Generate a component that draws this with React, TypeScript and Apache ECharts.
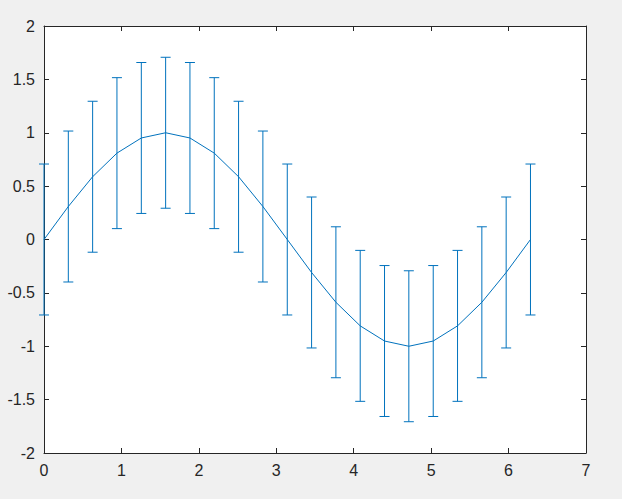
import React, { useEffect, useRef } from "react";
import * as echarts from "echarts";

const xValues = [0, 0.314, 0.628, 0.942, 1.257, 1.571, 1.885, 2.199, 2.513, 2.827, 3.142, 3.456, 3.77, 4.084, 4.398, 4.712, 5.027, 5.341, 5.655, 5.969, 6.283];
const yValues = [0, 0.309, 0.588, 0.809, 0.951, 1, 0.951, 0.809, 0.588, 0.309, 0, -0.309, -0.588, -0.809, -0.951, -1, -0.951, -0.809, -0.588, -0.309, 0];
const errValues = [0.707, 0.707, 0.707, 0.707, 0.707, 0.707, 0.707, 0.707, 0.707, 0.707, 0.707, 0.707, 0.707, 0.707, 0.707, 0.707, 0.707, 0.707, 0.707, 0.707, 0.707];

const BLUE = "#0072BD";
const AXIS = "#262626";
const FONT = "Liberation Sans";

export default function App() {
  const ref = useRef<HTMLDivElement>(null);
  useEffect(() => {
    document.body.style.margin = "0";
    document.body.style.background = "#f0f0f0";
    const chart = echarts.init(ref.current!, null, { renderer: "svg" });
    const lineData = xValues.map((x, i) => [x, yValues[i]]);
    const errData = xValues.map((x, i) => [x, yValues[i] - errValues[i], yValues[i] + errValues[i]]);
    const axisCommon = {
      type: "value" as const,
      axisLine: { show: true, onZero: false, lineStyle: { color: AXIS, width: 1 } },
      axisTick: { show: true, inside: true, length: 5, lineStyle: { color: AXIS } },
      splitLine: { show: false },
    };
    chart.setOption({
      animation: false,
      backgroundColor: "#f0f0f0",
      grid: { left: 44, top: 26, right: 36, bottom: 46, show: true, backgroundColor: "#ffffff", borderWidth: 0 },
      xAxis: [
        { ...axisCommon, min: 0, max: 7, interval: 1, position: "bottom",
          axisLabel: { color: AXIS, fontSize: 16, fontFamily: FONT, margin: 9 } },
        { ...axisCommon, min: 0, max: 7, interval: 1, position: "top", axisLabel: { show: false } },
      ],
      yAxis: [
        { ...axisCommon, min: -2, max: 2, interval: 0.5, position: "left",
          axisLabel: { color: AXIS, fontSize: 16, fontFamily: FONT, margin: 9 } },
        { ...axisCommon, min: -2, max: 2, interval: 0.5, position: "right", axisLabel: { show: false } },
      ],
      series: [
        {
          type: "custom",
          xAxisIndex: 0,
          yAxisIndex: 0,
          data: errData,
          renderItem: (params: any, api: any) => {
            const x = api.value(0);
            const lo = api.coord([x, api.value(1)]);
            const hi = api.coord([x, api.value(2)]);
            const hw = 5;
            const style = { stroke: BLUE, lineWidth: 1, fill: "none" };
            return {
              type: "group",
              children: [
                { type: "line", shape: { x1: lo[0], y1: lo[1], x2: hi[0], y2: hi[1] }, style },
                { type: "line", shape: { x1: lo[0] - hw, y1: lo[1], x2: lo[0] + hw, y2: lo[1] }, style },
                { type: "line", shape: { x1: hi[0] - hw, y1: hi[1], x2: hi[0] + hw, y2: hi[1] }, style },
              ],
            };
          },
        },
        {
          type: "line",
          xAxisIndex: 0,
          yAxisIndex: 0,
          data: lineData,
          symbol: "none",
          lineStyle: { color: BLUE, width: 1 },
        },
      ],
    });
    return () => chart.dispose();
  }, []);
  return <div ref={ref} style={{ position: "absolute", left: 0, top: 0, width: 622, height: 499 }} />;
}
